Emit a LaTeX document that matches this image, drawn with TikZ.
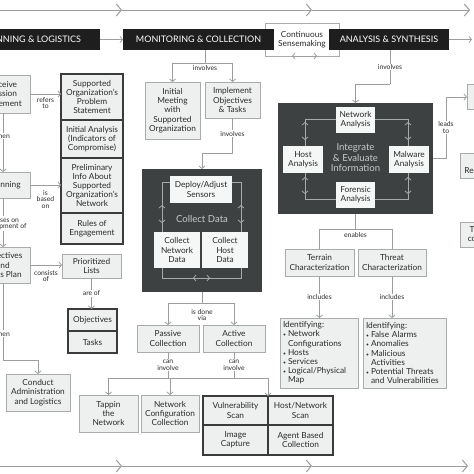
\documentclass[tikz,border=0pt]{standalone}
\usepackage{fontspec}
\setmainfont{Lato}
\usepackage{tikz}
\usetikzlibrary{arrows,arrows.meta,calc}
\definecolor{boxfill}{HTML}{EEF0F0}
\definecolor{boxline}{HTML}{A9ACAC}
\definecolor{darkfill}{HTML}{3D4141}
\definecolor{frame}{HTML}{3B3B3B}
\definecolor{linec}{HTML}{9C9E9E}
\definecolor{loopc}{HTML}{A7AAAA}
\definecolor{looptext}{HTML}{C9CBCB}
\definecolor{inwhite}{HTML}{F5F6F6}
\definecolor{ink}{HTML}{2A2A2A}
\definecolor{barfill}{HTML}{1E1E1E}
\newcommand\boxtxt{\fontsize{8.3}{9.2}\selectfont}
\newcommand\lbltxt{\fontsize{6.8}{6.6}\selectfont}
\newcommand\bartxt{\fontsize{9}{10}\selectfont}
\newcommand\bigtxt{\fontsize{9.6}{10.5}\selectfont}
\newcommand\bul{\makebox[5pt][l]{\fontsize{5}{5}\selectfont\textbullet}}
\newcommand\ind{\hspace*{5pt}}

\begin{document}
\begin{tikzpicture}[x=1pt,y=-1pt,>={Straight Barb[length=2.5pt,width=6pt]}]
      \tikzset{box/.style={draw=boxline, fill=boxfill, align=center,
          inner sep=1pt, outer sep=0pt, font=\boxtxt, text=ink, line width=0.6pt},
        cell/.style={box, draw=frame, line width=1.4pt},
        bar/.style={fill=barfill, text=white, font=\bartxt, inner sep=0pt,
          outer sep=0pt, minimum height=21pt},
        inbox/.style={fill=inwhite, align=center, inner sep=1pt, outer sep=0pt,
          font=\boxtxt, text=ink},
        darkbox/.style={fill=darkfill, inner sep=0pt, outer sep=0pt},
        lbl/.style={font=\lbltxt, align=center, fill=white, inner sep=0.8pt, text=ink},
        conn/.style={draw=linec, line width=0.8pt},
        loop/.style={draw=loopc, line width=0.8pt},
        thickframe/.style={draw=frame, line width=2.2pt},
        tl/.style={draw=linec, line width=1pt, -{Straight Barb[length=5pt,width=12pt]}}
      }
      \useasboundingbox (0,0) rectangle (474,474);
      \fill[white] (0,0) rectangle (474,474);
      \clip (0,0) rectangle (474,474);

      \coordinate (t0) at (-5,10);
      \coordinate (t1) at (122,10);
      \coordinate (t2) at (312,10);
      \coordinate (t3) at (470,10);
      \draw[tl] (t0)--(t1);
      \draw[tl] (t1)--(t2);
      \draw[tl] (t2)--(t3);
      \coordinate (b0) at (-5,466);
      \coordinate (b1) at (122,466);
      \coordinate (b2) at (312,466);
      \coordinate (b3) at (468,466);
      \draw[tl] (b0)--(b1);
      \draw[tl] (b1)--(b2);
      \draw[tl] (b2)--(b3);

      \node [box, fill=white, minimum width=74pt, minimum height=33pt] (sense) at (302,39.5) {Continuous\\Sensemaking};
      \draw [conn,<->] ($(sense.south)+(-10,0)$)--($(sense.south)+(15,0)$);
      \node [bar, minimum width=139pt] (plbar) at (30.5,39.5) {PLANNING \& LOGISTICS};
      \node [bar, minimum width=151pt] (mon) at (198.5,39.5) {MONITORING \& COLLECTION};
      \node [bar, minimum width=120pt] (ana) at (389,39.5) {ANALYSIS \& SYNTHESIS};
      \coordinate (aend) at (472,39.5);
      \draw [conn,->] (plbar)--(mon);
      \draw [conn,->] (ana)--(aend);

      \node [box, minimum width=54pt, minimum height=38pt] (recv) at (3,94) {Receive\\Mission\\Statement};
      \node [box, minimum width=54pt, minimum height=26pt] (plan) at (3,185) {\hspace*{4pt}Planning};
      \node [box, minimum width=54pt, minimum height=36pt] (objplan) at (3,265) {Objectives\\and\\Tasks Plan};
      \node [box, minimum width=64pt, minimum height=37pt] (conduct) at (38,392.5) {Conduct\\Administration\\and Logistics};

      \node [cell, minimum width=62pt, minimum height=46pt] (sup) at (92,97) {Supported\\Organization’s\\Problem\\Statement};
      \node [cell, minimum width=62pt, minimum height=38pt] (ini) at (92,139) {Initial Analysis\\(Indicators of\\Compromise)};
      \node [cell, minimum width=62pt, minimum height=55pt] (pre) at (92,185.5) {Preliminary\\Info About\\Supported\\Organization’s\\Network};
      \node [cell, minimum width=62pt, minimum height=31pt] (rules) at (92,228.5) {Rules of\\Engagement};
      \draw [thickframe] (sup.north west) rectangle (rules.south east);

      \node [box, minimum width=59pt, minimum height=24pt] (prio) at (91.5,266) {Prioritized\\Lists};
      \node [cell, minimum width=49pt, minimum height=22pt] (objs) at (92.5,320) {Objectives};
      \node [cell, minimum width=49pt, minimum height=22pt] (tasks) at (92.5,342) {Tasks};
      \draw [thickframe] (objs.north west) rectangle (tasks.south east);

      \draw [conn,->] (recv)--(plan) node [lbl,pos=0.39] {then};
      \draw [conn,->] (plan)--(objplan) node [lbl,pos=0.52] {focuses on\\development of};
      \draw [conn,->] (objplan.south)--++(0,77) node [lbl,pos=0.66] {then} -| (conduct.north);
      \draw [conn,->] (recv.east)--(recv.east -| sup.west) node [lbl,below=2pt,midway] {refers\\to};
      \draw [conn,->] (plan.east)--(plan.east -| pre.west) node [lbl,below=4pt,midway] {is\\based\\on};
      \draw [conn,->] (objplan.east)--(objplan.east -| prio.west) node [lbl,below=4pt,midway] {consists\\of};
      \draw [conn,->] (prio.south)--(prio.south |- objs.north) node [lbl,midway] {are of};

      \node [box, minimum width=55pt, minimum height=57pt] (meet) at (172.5,110.5) {Initial\\Meeting\\with\\Supported\\Organization};
      \node [box, minimum width=55pt, minimum height=36pt] (impl) at (232.5,100) {Implement\\Objectives\\\& Tasks};

      \node [darkbox, minimum width=120pt, minimum height=123pt] (collect) at (202,230.5) {};
      \draw [loop] (162,182) rectangle (241,278);
      \draw [loop,<->] (162,205)--(162,223);
      \draw [loop,<->] (241,205)--(241,223);
      \draw [loop,<->] (193,278)--(210,278);
      \node [inbox, minimum width=62pt, minimum height=27pt] (deploy) at (201,189.5) {Deploy/Adjust\\Sensors};
      \node [font=\bigtxt, text=looptext] (cdata) at (202,219) {Collect Data};
      \node [inbox, minimum width=46pt, minimum height=36pt] (cnet) at (177,250) {Collect\\Network\\Data};
      \node [inbox, minimum width=46pt, minimum height=36pt] (chost) at (225,250) {Collect\\Host\\Data};

      \node [box, minimum width=62pt, minimum height=27pt] (passive) at (168,338.5) {Passive\\Collection};
      \node [box, minimum width=62pt, minimum height=27pt] (active) at (234,338.5) {Active\\Collection};
      \node [box, minimum width=59pt, minimum height=37pt] (tappin) at (108.5,413.5) {Tappin\\the\\Network};
      \node [box, minimum width=58pt, minimum height=37pt] (netconf) at (170,413.5) {Network\\Configuration\\Collection};
      \node [cell, minimum width=65pt, minimum height=29pt] (vuln) at (235.5,410.5) {Vulnerability\\Scan};
      \node [cell, minimum width=65pt, minimum height=29pt] (hostnet) at (300.5,410.5) {Host/Network\\Scan};
      \node [cell, minimum width=65pt, minimum height=30pt] (image) at (235.5,440) {Image\\Capture};
      \node [cell, minimum width=65pt, minimum height=30pt] (agent) at (300.5,440) {Agent Based\\Collection};
      \draw [thickframe] (vuln.north west) rectangle (agent.south east);

      \coordinate (mv) at (205,63);
      \draw [conn] (mon.south -| mv)--(mv) node [lbl,below=1pt,pos=1] {involves};
      \draw [conn,->] (mv) -| (meet);
      \draw [conn,->] (mv) -| (impl);
      \draw [conn,->] (impl.south)--++(0,35) node [lbl,pos=0.45] {involves} -| (collect.north);
      \coordinate (cv) at (202,303);
      \draw [conn] (collect.south)--(cv) node [lbl,below=5pt,pos=1] {is done\\via};
      \draw [conn,->] (cv) -| (passive);
      \draw [conn,->] (cv) -| (active);
      \coordinate (busy) at (0,378);
      \draw [conn] (passive)--(passive.south |- busy) node [lbl,midway] {can\\involve};
      \draw [conn] (active)--(active.south |- busy) node [lbl,midway] {can\\involve};
      \draw [conn] (tappin.north |- busy)--(vuln.north east |- busy);
      \draw [conn,->] (tappin.north |- busy)--(tappin);
      \draw [conn,->] (netconf.north |- busy)--(netconf);
      \draw [conn,->] (vuln.north east |- busy)--(vuln.north east);

      \node [darkbox, minimum width=155pt, minimum height=111pt] (anabox) at (355.5,158.5) {};
      \draw [loop] (305,119) rectangle (408,199);
      \draw [loop,<->] (305,122)--(305,140);
      \draw [loop,<->] (408,122)--(408,140);
      \draw [loop,<->] (305,177)--(305,194);
      \draw [loop,<->] (408,177)--(408,194);
      \node [inbox, minimum width=39pt, minimum height=26pt] (netan) at (355.5,120) {Network\\Analysis};
      \node [inbox, minimum width=40pt, minimum height=27pt] (hostan) at (303,159.5) {Host\\Analysis};
      \node [inbox, minimum width=40pt, minimum height=27pt] (malan) at (409,159.5) {Malware\\Analysis};
      \node [inbox, minimum width=39pt, minimum height=26pt] (foran) at (355.5,195) {Forensic\\Analysis};
      \node [font=\bigtxt, text=looptext, align=center] (integ) at (355.5,158) {Integrate\\\& Evaluate\\Information};

      \node [box, minimum width=46pt, minimum height=25pt] (nextA) at (490,97) {};
      \node [box, minimum width=76pt, minimum height=25pt] (nextB) at (498,165.5) {Key\\Recommendations};
      \node [box, minimum width=60pt, minimum height=25pt] (nextC) at (490,234.5) {Timeline of\\compromise};

      \node [box, minimum width=69pt, minimum height=27pt] (terrain) at (319.5,262.5) {Terrain\\Characterization};
      \node [box, minimum width=68pt, minimum height=27pt] (threat) at (392,262.5) {Threat\\Characterization};
      \node [box, align=left, text width=72pt, minimum width=78pt, minimum height=70pt] (ident1) at (319,353)
        {Identifying:\\\bul Network\\\ind Configurations\\\bul Hosts\\\bul Services\\\bul Logical/Physical\\\ind Map};
      \node [box, align=left, text width=77pt, minimum width=83pt, minimum height=70pt] (ident2) at (404.5,353)
        {Identifying:\\\bul False Alarms\\\bul Anomalies\\\bul Malicious\\\ind Activities\\\bul Potential Threats\\\ind and Vulnerabilities};

      \coordinate (av) at (390,84);
      \draw [conn] (ana.south -| av)--(av) node [lbl,midway] {involves};
      \draw [conn,->] (av) -| (anabox.north);
      \coordinate (lv) at (446,97);
      \draw [conn,->] (anabox.east) -| (lv) node [lbl,pos=0.75] {leads\\to} -- (nextA);
      \coordinate (ev) at (355.5,229);
      \draw [conn] (anabox.south)--(ev) node [lbl,below=2pt,pos=1] {enables};
      \draw [conn] (ev) -| (terrain);
      \draw [conn] (ev) -| (threat);
      \draw [conn,->] (terrain)--(terrain.south |- ident1.north) node [lbl,midway] {includes};
      \draw [conn,->] (threat)--(threat.south |- ident2.north) node [lbl,midway] {includes};
    \end{tikzpicture}
\end{document}
